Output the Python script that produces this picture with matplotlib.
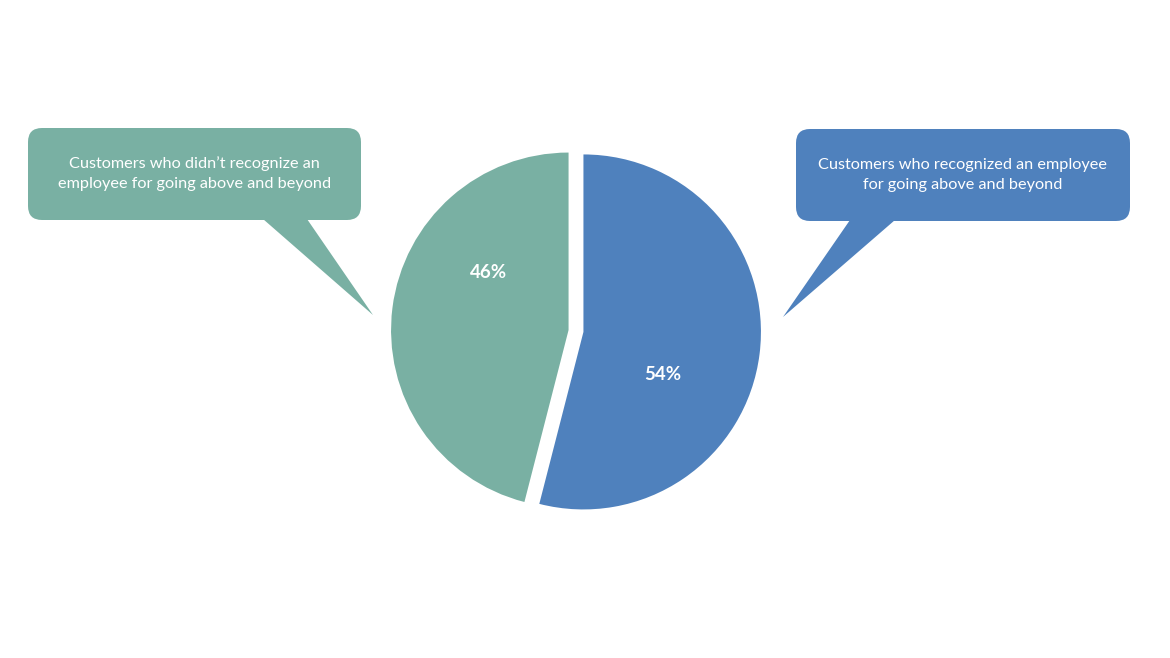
import matplotlib
matplotlib.use("Agg")
import matplotlib.pyplot as plt
from matplotlib.patches import FancyBboxPatch, Polygon

labels = ["Customers who recognized an employee\nfor going above and beyond",
          "Customers who didn\u2019t recognize an\nemployee for going above and beyond"]
shares = [54, 46]
pct_text = ["54%", "46%"]
colors = ["#4f81bd", "#79b0a3"]

W, H = 1170, 658
fig = plt.figure(figsize=(W / 100, H / 100), dpi=100)
ax = fig.add_axes([0, 0, 1, 1])

# pixel helper: picture y runs downwards
def py(y):
    return H - y

cx, cy, r = 576, py(331), 177.5
# explode is in data units here (radius is not 1)
wedges, _ = ax.pie(shares, colors=colors, startangle=90, counterclock=False,
                   radius=r, center=(cx, cy), explode=[7.5, 7.5],
                   wedgeprops=dict(linewidth=0), frame=True)
ax.set_xlim(0, W)
ax.set_ylim(0, H)
ax.set_aspect("equal")
ax.axis("off")

# percentage labels
label_pos = [(663, 375), (489, 272)]
for (x, y), t in zip(label_pos, pct_text):
    ax.text(x, py(y), t, color="white", fontsize=13.5, fontweight="bold",
            ha="center", va="center", family="Lato")

# callout boxes: (left, top, right, bottom), pointer base x0, x1, tip
boxes = [
    dict(box=(796, 129, 1130, 221), base=(850, 895), tip=(783, 317)),
    dict(box=(28, 128, 361, 220), base=(263, 307), tip=(373, 315)),
]
for b, lab, c in zip(boxes, labels, colors):
    x0, y0, x1, y1 = b["box"]
    pad = 14
    ax.add_patch(FancyBboxPatch((x0 + pad, py(y1) + pad), x1 - x0 - 2 * pad, y1 - y0 - 2 * pad,
                                boxstyle=f"round,pad={pad}", fc=c, ec="none"))
    bx0, bx1 = b["base"]
    tx, ty = b["tip"]
    ax.add_patch(Polygon([(bx0, py(y1) + 1), (bx1, py(y1) + 1), (tx, py(ty))],
                         closed=True, fc=c, ec="none"))
    ax.text((x0 + x1) / 2, py(y0 + 46), lab, color="white", fontsize=11.7,
            ha="center", va="center", family="Lato", linespacing=1.55)

fig.savefig("out.png", dpi=100)
